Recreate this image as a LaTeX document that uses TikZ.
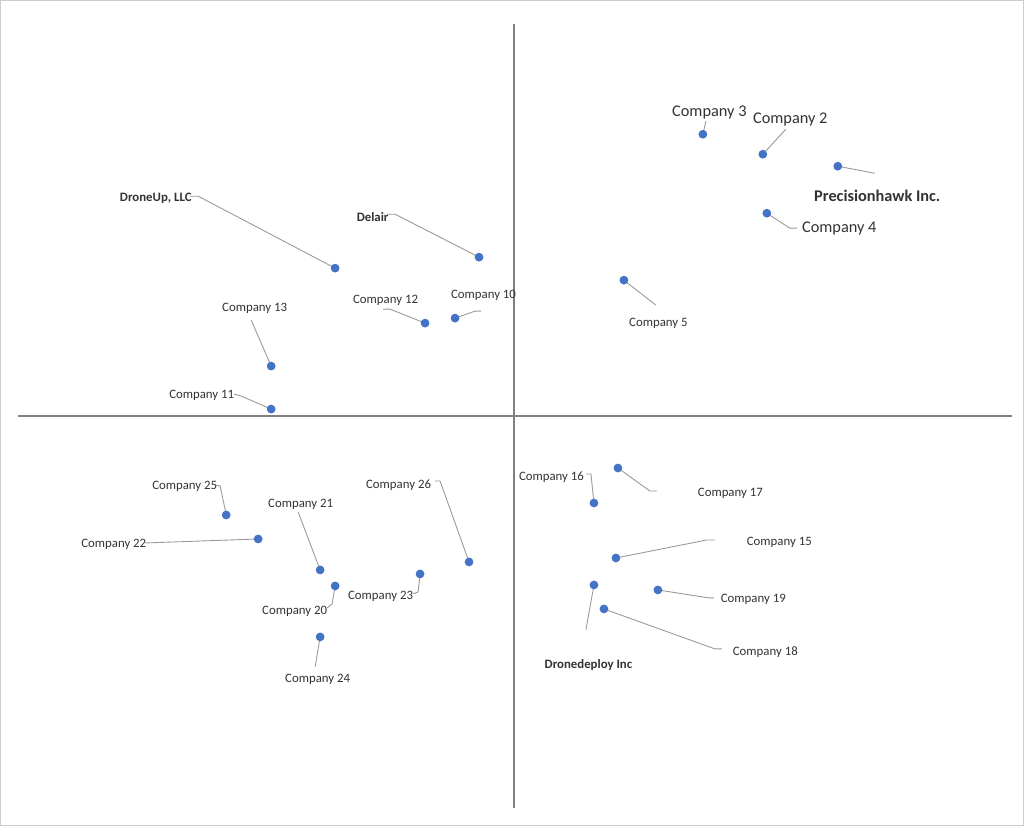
\documentclass[tikz,border=0pt]{standalone}
\usepackage{fontspec}
\setmainfont{Carlito}
\definecolor{dotblue}{HTML}{4472C4}
\begin{document}
\begin{tikzpicture}
[x=0.02cm,y=-0.02cm,
dot/.style={circle,fill=dotblue,inner sep=0pt,minimum size=5pt},
lead/.style={gray!80,line width=0.5pt},
lbl/.style={font=\fontsize{7.3}{9}\selectfont,text=black!80,xshift=2pt,yshift=-1pt},
big/.style={font=\fontsize{9.3}{11}\selectfont,text=black!80,xshift=2pt,yshift=-1pt},
bold/.style={font=\fontsize{7.3}{9}\selectfont\bfseries,text=black!80,xshift=2pt,yshift=-1pt}]
%%
% frame and axes
%%
\draw[gray!40,fill=white] (0,0) rectangle (1024,826);
\draw[gray,line width=0.8pt] (514,24) -- (514,808);
\draw[gray,line width=0.8pt] (18,416) -- (1012,416);
%%
% points: name/x/y/bend x/bend y/end x/end y/label x/label y/style/text
%%
\foreach \n/\px/\py/\bx/\by/\ex/\ey/\lx/\ly/\s/\t in {
c3/703/134/706/121/706/121/706/110/big/Company 3,
c2/763/154/786/129/786/129/787/117/big/Company 2,
ph/838/166/875/173/875/173/874/194/big/\textbf{Precisionhawk Inc.},
c4/767/213/790/228/797/228/836/227/big/Company 4,
c5/624/280/656/305/656/305/655/321/lbl/Company 5,
du/335/268/198/196/190/196/152/196/bold/{DroneUp, LLC},
de/479/257/395/214/387/214/369/215/bold/Delair,
c12/425/323/390/309/383/309/382/298/lbl/Company 12,
c10/455/318/475/311/481/311/480/293/lbl/Company 10,
c13/271/366/251/320/251/320/251/306/lbl/Company 13,
c11/271/409/241/396/234/394/198/394/lbl/Company 11,
c25/226/515/220/486/215/485/181/485/lbl/Company 25,
c22/258/539/145/543/145/543/110/543/lbl/Company 22,
c21/320/570/298/512/298/512/297/503/lbl/Company 21,
c20/335/586/332/604/327/608/291/610/lbl/Company 20,
c23/420/574/418/592/413/594/377/595/lbl/Company 23,
c26/469/562/440/481/435/481/395/483/lbl/Company 26,
c24/320/637/315/667/315/667/314/678/lbl/Company 24,
c16/594/503/591/474/586/474/548/475/lbl/Company 16,
c17/618/468/650/491/657/491/727/492/lbl/Company 17,
c15/616/558/707/540/715/540/776/541/lbl/Company 15,
c19/658/590/709/598/714/598/750/598/lbl/Company 19,
dd/594/585/586/630/586/630/585/663/bold/Dronedeploy Inc,
c18/604/609/715/649/722/649/762/650/lbl/Company 18}
{
\coordinate (\n-b) at (\bx,\by);
\coordinate (\n-e) at (\ex,\ey);
\draw[lead] (\px,\py) -- (\n-b) -- (\n-e);
\node[dot] (\n) at (\px,\py) {};
\node[\s] (\n-t) at (\lx,\ly) {\t};
}
\end{tikzpicture}
\end{document}
